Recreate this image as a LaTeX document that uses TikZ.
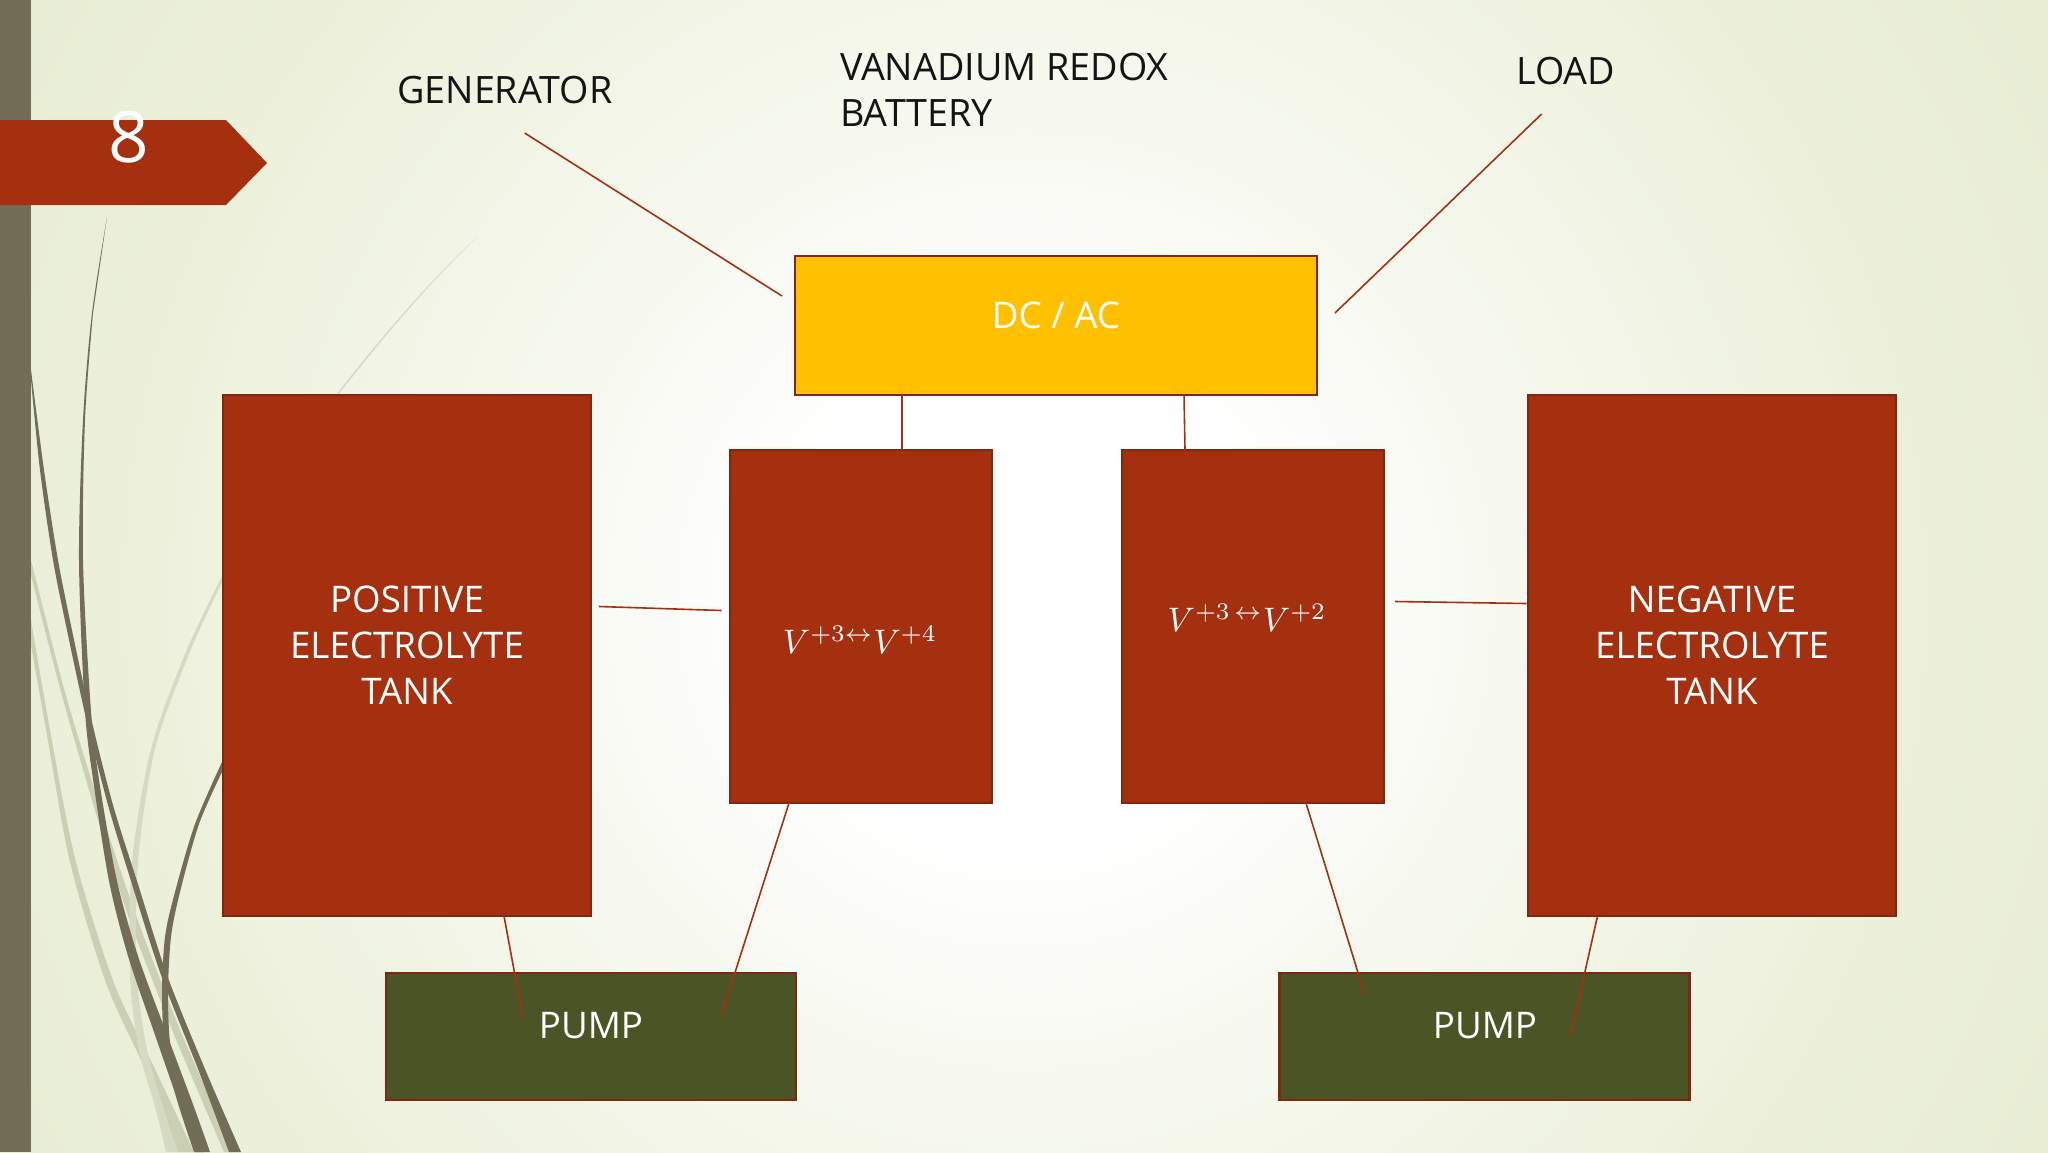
\documentclass[tikz,border=0pt]{standalone}
\usepackage{fontspec}
\setmainfont{Open Sans}
\usetikzlibrary{calc}
\definecolor{bgA}{HTML}{F7F9F0}
\definecolor{bgB}{HTML}{EDF1DC}
\definecolor{bgC}{HTML}{E2E8CB}
\definecolor{bgD}{HTML}{D9E1B9}
\definecolor{barcol}{HTML}{736C56}
\definecolor{wisplight}{HTML}{CBD0B4}
\definecolor{wispfaint}{HTML}{D5DAC2}
\definecolor{rust}{HTML}{A5300F}
\definecolor{rustline}{HTML}{7F2810}
\definecolor{pumpgreen}{HTML}{4A5425}
\definecolor{amber}{HTML}{FFC000}
\pgfdeclareradialshading{slidebg}{\pgfpoint{0bp}{0bp}}{color(0bp)=(white); color(5bp)=(white); color(10bp)=(bgA); color(18bp)=(bgB); color(31bp)=(bgC); color(37bp)=(bgD); color(72bp)=(bgD)}
\tikzset{
  x=1pt,y=-1pt,
  box/.style={draw=rustline,line width=2pt,fill=rust,inner sep=0pt,outer sep=0pt},
  pump/.style={draw=rustline,line width=2.6pt,fill=pumpgreen,inner sep=0pt,outer sep=0pt},
  power/.style={draw=rustline,line width=2pt,fill=amber,inner sep=0pt,outer sep=0pt},
  intext/.style={text=white,align=center,font=\fontsize{36.7}{46}\selectfont,inner sep=0pt},
  outtext/.style={text=black!92,align=left,anchor=west,font=\fontsize{37.7}{46}\selectfont,inner sep=0pt},
  link/.style={draw=rust,line width=1.6pt},
  wd/.style={fill=barcol,draw=none},
  wl/.style={fill=wisplight,draw=none},
  wf/.style={fill=wispfaint,draw=none},
}
\begin{document}
\begin{tikzpicture}
\useasboundingbox (0,0) rectangle (2048,1152);
\begin{scope}
\clip (0,0) rectangle (2048,1152);
\shade[shading=slidebg] (-176,-600) rectangle (2224,1800);
\end{scope}
% light wisps
\fill[wl] plot[smooth] coordinates {(31,575)(61,692)(97,817)(129,918)(173,1032)(224,1152)} -- plot[smooth] coordinates {(234,1152)(181,1032)(137,918)(103,817)(65,692)(31,560)} -- cycle;
\fill[wl] plot[smooth] coordinates {(31,645)(48,741)(70,862)(106,983)(145,1069)(178,1152)} -- plot[smooth] coordinates {(194,1152)(155,1069)(114,983)(76,862)(52,741)(31,620)} -- cycle;
\fill[wf] plot[smooth] coordinates {(222,576)(185,654)(151,749)(132,862)(130,975)(139,1050)(156,1110)(166,1152)} -- plot[smooth] coordinates {(178,1152)(164,1110)(147,1050)(137,975)(138,862)(155,749)(189,654)(222,582)} -- cycle;
\fill[wf] (478,236) .. controls (425,285) and (375,345) .. (336,395) -- (338,395) .. controls (377,345) and (427,285) .. (478,236) -- cycle;
% dark wisps
\fill[wd] plot[smooth] coordinates {(107,217)(92,313)(83,420)(79,560)(85,711)(94,786)(109,881)(128,956)(154,1032)(180,1107)(196,1152)} -- plot[smooth] coordinates {(210,1152)(194,1107)(166,1032)(138,956)(117,881)(100,786)(91,711)(83,560)(85,420)(93,313)} -- cycle;
\fill[wd] plot[smooth] coordinates {(31,380)(40,470)(53,560)(68,635)(86,718)(108,805)(131,881)(161,975)(198,1069)(229,1152)} -- plot[smooth] coordinates {(241,1152)(205,1069)(167,975)(137,881)(113,805)(91,718)(73,635)(58,560)(44,470)(31,370)} -- cycle;
\fill[wd] plot[smooth] coordinates {(222,762)(195,824)(175,892)(165,937)(162,994)(165,1050)(177,1100)(194,1152)} -- plot[smooth] coordinates {(204,1152)(185,1100)(171,1050)(168,994)(171,937)(180,892)(199,824)(222,772)} -- cycle;
% left bar and number tag
\fill[barcol] (0,0) rectangle (31,1152);
\fill[rust] (0,120) -- (226,120) -- (267,163) -- (226,205) -- (0,205) -- cycle;
\node[text=white,inner sep=0pt,font=\fontsize{71}{71}\selectfont] (num) at (129,137) {8};
% outside labels
\node[outtext] (gen) at (397,90) {GENERATOR};
\node[outtext] (bat) at (840,90) {VANADIUM REDOX\\BATTERY};
\node[outtext] (load) at (1516,71) {LOAD};
% boxes
\node[power,minimum width=522pt,minimum height=139pt] (dc) at (1056,325) {};
\node[box,minimum width=368pt,minimum height=521pt] (tankL) at (407,655.5) {};
\node[box,minimum width=368pt,minimum height=521pt] (tankR) at (1711.5,655.5) {};
\node[box,minimum width=262pt,minimum height=353pt] (cellL) at (860.5,626.5) {};
\node[box,minimum width=262pt,minimum height=353pt] (cellR) at (1253,626.5) {};
\node[pump,minimum width=410pt,minimum height=127pt] (pumpL) at (591,1036.5) {};
\node[pump,minimum width=410pt,minimum height=127pt] (pumpR) at (1484.5,1036.5) {};
% box texts
\node[intext] (dctext) at (1056,315) {DC / AC};
\node[intext] (tankLtext) at (407,645.5) {POSITIVE\\ELECTROLYTE\\TANK};
\node[intext] (tankRtext) at (1712,645.5) {NEGATIVE\\ELECTROLYTE\\TANK};
\node[intext] (pumpLtext) at (591,1025.5) {PUMP};
\node[intext] (pumpRtext) at (1485,1025.5) {PUMP};
\node[text=white,inner sep=0pt] (cellLtext) at (860,640) {\scalebox{3.4}{$V^{+3\leftrightarrow}V^{+4}$}};
\node[text=white,inner sep=0pt] (cellRtext) at (1247,618) {\scalebox{3.4}{$V^{+3\,\leftrightarrow}V^{+2}$}};
% connectors
\draw[link] ($(gen.south)+(20,29)$) -- ($(dc.west)+(-13,-29)$);
\draw[link] ($(load.south)+(-24,29)$) -- ($(dc.east)+(18,-12)$);
\draw[link] ($(dc.south)+(-154,0)$) -- ($(cellL.north)+(41.5,0)$);
\draw[link] ($(dc.south)+(128,0)$) -- ($(cellR.north)+(-68,0)$);
\draw[link] ($(tankL.east)+(8,-49)$) -- ($(cellL.west)+(-8,-16)$);
\draw[link] ($(cellR.east)+(11,-25)$) -- ($(tankR.west)+(-1,-52)$);
\draw[link] ($(tankL.south)+(97,0)$) -- ($(pumpL.center)+(-68,-18)$);
\draw[link] ($(cellL.south)+(-71.5,0)$) -- ($(pumpL.center)+(130,-20)$);
\draw[link] ($(cellR.south)+(53,0)$) -- ($(pumpR.center)+(-119.5,-41)$);
\draw[link] ($(tankR.south)+(-114,0)$) -- ($(pumpR.center)+(86.5,-2.5)$);
\end{tikzpicture}
\end{document}
